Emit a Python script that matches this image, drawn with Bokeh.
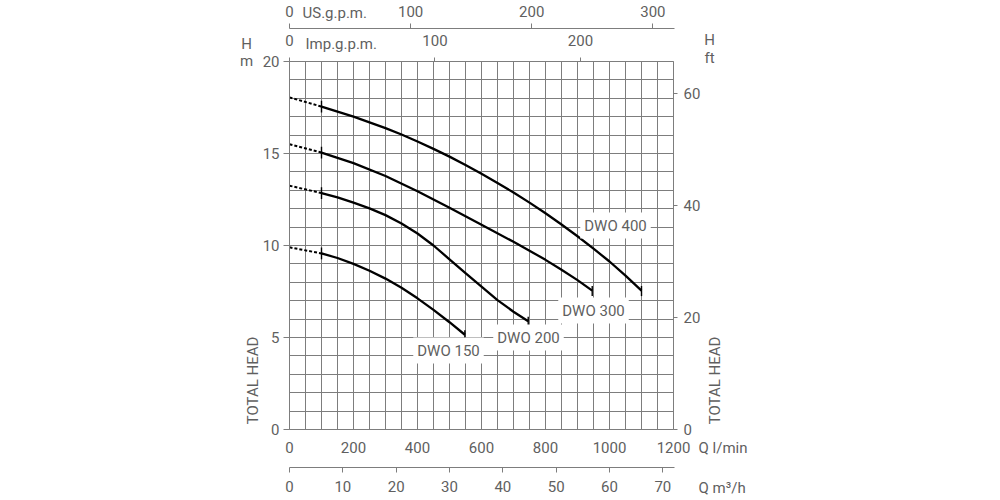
import numpy as np
from bokeh.plotting import figure
from bokeh.models import LinearAxis, Range1d, SingleIntervalTicker, Label
from bokeh.embed import file_html
from bokeh.resources import INLINE

# ---------------- data (Q in l/min, H in m) ----------------
models = ["DWO 150", "DWO 200", "DWO 300", "DWO 400"]
shutoff_h = [9.9, 13.25, 15.5, 18.05]          # head at Q = 0 (dashed part)
q_dwo150 = [100, 150, 200, 250, 300, 350, 400, 450, 500, 548]
h_dwo150 = [9.57, 9.32, 9.0, 8.63, 8.2, 7.7, 7.13, 6.5, 5.83, 5.15]
q_dwo200 = [100, 150, 200, 250, 300, 350, 400, 450, 500, 550, 600, 650, 700, 746]
h_dwo200 = [12.85, 12.62, 12.33, 12.02, 11.65, 11.2, 10.65, 10.0, 9.25, 8.5, 7.76, 7.03, 6.4, 5.88]
q_dwo300 = [100, 200, 300, 400, 500, 600, 700, 750, 800, 850, 900, 946]
h_dwo300 = [15.05, 14.48, 13.78, 12.95, 12.05, 11.13, 10.2, 9.72, 9.22, 8.68, 8.12, 7.55]
q_dwo400 = [100, 200, 300, 350, 400, 450, 500, 550, 600, 650, 700, 750, 800, 850, 900, 950, 1000, 1050, 1100]
h_dwo400 = [17.55, 17.0, 16.38, 16.03, 15.65, 15.25, 14.83, 14.38, 13.9, 13.4, 12.88, 12.33, 11.75, 11.14, 10.5, 9.83, 9.13, 8.36, 7.55]

x_ticks_lmin = [0, 200, 400, 600, 800, 1000, 1200]
y_ticks_m = [0, 5, 10, 15, 20]
y_ticks_ft = [0, 20, 40, 60]
ticks_imp = [0, 100, 200]
ticks_us = [0, 100, 200, 300]
ticks_m3h = [0, 10, 20, 30, 40, 50, 60, 70]

L_PER_USGAL = 3.78541
L_PER_IMPGAL = 4.54609
LMIN_PER_M3H = 1000.0 / 60.0
M_PER_FT = 0.3048
Q_MAX, H_MAX = 1200, 20

# ---------------- layout (pixels of the 1000x500 page) ----------------
W, HGT = 1000, 500
PX_Q0, PX_QMAX = 289, 673      # x pixel of Q = 0 and Q = 1200
PY_H0, PY_HMAX = 429, 61       # y pixel of H = 0 and H = 20
SX = (PX_QMAX - PX_Q0) / Q_MAX
SY = (PY_H0 - PY_HMAX) / H_MAX


def dx(px):
    return (px - PX_Q0) / SX


def dy(py):
    return (PY_H0 - py) / SY


X_START, X_END = dx(0), dx(W)
Y_START, Y_END = dy(HGT), dy(0)

FONT = "Roboto"
GRID = "#7d7d7d"
TXT = "#5f5f5f"
FS = "15px"

p = figure(width=W, height=HGT, x_range=Range1d(X_START, X_END),
           y_range=Range1d(Y_START, Y_END),
           output_backend="svg", toolbar_location=None, min_border=0)
p.min_border_left = p.min_border_right = p.min_border_top = p.min_border_bottom = 0
p.background_fill_color = "white"
p.border_fill_color = "white"
p.outline_line_color = None

p.extra_x_ranges = {"imp": Range1d(X_START / L_PER_IMPGAL, X_END / L_PER_IMPGAL),
                    "us": Range1d(X_START / L_PER_USGAL, X_END / L_PER_USGAL),
                    "m3h": Range1d(X_START / LMIN_PER_M3H, X_END / LMIN_PER_M3H)}
p.extra_y_ranges = {"ft": Range1d(Y_START / M_PER_FT, Y_END / M_PER_FT)}

xg, yg = p.xgrid[0], p.ygrid[0]
xg.ticker = SingleIntervalTicker(interval=50, num_minor_ticks=0)
yg.ticker = SingleIntervalTicker(interval=1, num_minor_ticks=0)
xg.bounds = (0, Q_MAX)
yg.bounds = (0, H_MAX)
xg.cross_bounds = (0, H_MAX)
yg.cross_bounds = (0, Q_MAX)
for g in (xg, yg):
    g.grid_line_color = GRID
    g.grid_line_width = 1


def style_axis(ax, ticks, tick_out, standoff, line=True):
    ax.ticker = ticks
    ax.major_tick_out = tick_out
    ax.major_tick_in = 0
    ax.minor_tick_out = 0
    ax.minor_tick_in = 0
    ax.major_tick_line_color = GRID if tick_out > 0 else None
    ax.axis_line_color = GRID if line else None
    ax.major_label_text_font = FONT
    ax.major_label_text_font_size = FS
    ax.major_label_text_color = TXT
    ax.major_label_standoff = standoff


# bottom l/min axis
xa = p.xaxis[0]
xa.fixed_location = 0
xa.bounds = (0, Q_MAX)
style_axis(xa, x_ticks_lmin, 0, 12, line=False)

# left m axis
ya = p.yaxis[0]
ya.fixed_location = 0
ya.bounds = (0, H_MAX)
style_axis(ya, y_ticks_m, 6, 4)

# top Imp.g.p.m. axis (on the top grid line)
imp = LinearAxis(x_range_name="imp", fixed_location=H_MAX, bounds=(0, Q_MAX / L_PER_IMPGAL))
style_axis(imp, ticks_imp, 4, 12, line=False)
p.add_layout(imp, "above")

# top US.g.p.m. axis
us = LinearAxis(x_range_name="us", fixed_location=dy(28), bounds=(0, 1203 / L_PER_USGAL))
style_axis(us, ticks_us, 5, 7)
p.add_layout(us, "above")

# bottom m3/h axis
m3 = LinearAxis(x_range_name="m3h", fixed_location=dy(467), bounds=(0, 1203 / LMIN_PER_M3H))
style_axis(m3, ticks_m3h, 5, 8)
p.add_layout(m3, "below")

# right ft axis
ft = LinearAxis(y_range_name="ft", fixed_location=Q_MAX, bounds=(0, H_MAX / M_PER_FT))
style_axis(ft, y_ticks_ft, 4, 6)
p.add_layout(ft, "right")

# ---------------- curves ----------------
q_all = [q_dwo150, q_dwo200, q_dwo300, q_dwo400]
h_all = [h_dwo150, h_dwo200, h_dwo300, h_dwo400]
curve_label_pos = {"DWO 150": (dx(448), dy(350)), "DWO 200": (dx(528), dy(337)),
                   "DWO 300": (dx(593), dy(310)), "DWO 400": (dx(615), dy(225))}
for name, q, h, h0 in zip(models, q_all, h_all, shutoff_h):
    p.line([0, q[0]], [h0, h[0]], line_color="black", line_width=2, line_dash="3 2")
    p.line(q, h, line_color="black", line_width=2.3, line_join="round")
    p.segment(x0=[q[0], q[-1]], x1=[q[0], q[-1]],
              y0=[h[0] - 0.32, h[-1] - 0.3], y1=[h[0] + 0.32, h[-1] + 0.25],
              line_color="black", line_width=1.4)
    lx, ly = curve_label_pos[name]
    lab = Label(x=lx, y=ly, text=name, text_align="center", text_baseline="middle",
                text_font=FONT, text_font_size=FS, text_color=TXT,
                background_fill_color="white")
    try:
        lab.padding = 4
    except Exception:
        pass
    p.add_layout(lab)


def add_text(px, py, t, align="left", baseline="alphabetic", angle=0.0):
    p.add_layout(Label(x=dx(px), y=dy(py), text=t, text_align=align, text_baseline=baseline,
                       text_font=FONT, text_font_size=FS, text_color=TXT, angle=angle))


add_text(246, 43, "H", "center")
add_text(246, 60, "m", "center")
add_text(709, 39, "H", "center")
add_text(709, 57, "ft", "center")
add_text(252, 380, "TOTAL HEAD", "center", "middle", np.pi / 2)
add_text(714, 380, "TOTAL HEAD", "center", "middle", np.pi / 2)
add_text(302, 12, "US.g.p.m.")
add_text(305, 43, "Imp.g.p.m.")
add_text(698, 447, "Q l/min")
add_text(698, 487, "Q m\u00b3/h")

open("out.html", "w").write(file_html(p, INLINE))
